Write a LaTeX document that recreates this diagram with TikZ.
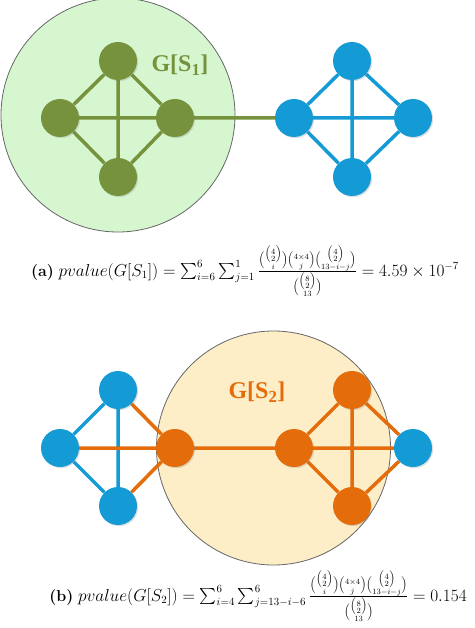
\documentclass[tikz,border=0pt]{standalone}
\usepackage{amsmath,amssymb}
\usepackage{fontspec}
\usepackage{xcolor}
\usepackage{tikz}
\usetikzlibrary{shadows}
\newfontfamily\labelfont{Liberation Serif}
\definecolor{olivegreen}{RGB}{118,146,60}
\definecolor{lightgreen}{RGB}{214,246,208}
\definecolor{skyblue}{RGB}{20,155,213}
\definecolor{darkorange}{RGB}{228,108,10}
\definecolor{lightcream}{RGB}{253,238,200}
\pgfdeclarelayer{regions}
\pgfdeclarelayer{edges}
\pgfsetlayers{regions,edges,main}

\begin{document}
\begin{tikzpicture}[
  x=1pt, y=-1pt,
  vertex/.style={circle, minimum size=38pt, inner sep=0pt, drop shadow={opacity=0.25, shadow xshift=1.2pt, shadow yshift=-1.2pt}},
  gvertex/.style={vertex, fill=olivegreen},
  bvertex/.style={vertex, fill=skyblue},
  overtex/.style={vertex, fill=darkorange},
  region/.style={circle, draw=gray!80!black, line width=0.8pt, minimum size=234pt, inner sep=0pt},
  gedge/.style={draw=olivegreen, line width=3.5pt},
  bedge/.style={draw=skyblue, line width=3.5pt},
  oedge/.style={draw=darkorange, line width=3.5pt},
  setlabel/.style={font=\labelfont\fontsize{24}{28}\selectfont\bfseries},
  formula/.style={font=\fontsize{16}{19}\selectfont, anchor=base}
]
\useasboundingbox (0,0) rectangle (474,628);

% (a) the induced subgraph G[S_1]
\begin{pgfonlayer}{regions}
\node (regA) [region, fill=lightgreen] at (118,115) {};
\end{pgfonlayer}
\node (g1) [gvertex] at (118,61) {};
\node (g2) [gvertex] at (60,118) {};
\node (g3) [gvertex] at (175,118) {};
\node (g4) [gvertex] at (118,177) {};
\node (b1) [bvertex] at (352,61) {};
\node (b2) [bvertex] at (294,118) {};
\node (b3) [bvertex] at (413,118) {};
\node (b4) [bvertex] at (352,177) {};
\node (labA) [setlabel, text=olivegreen] at (180,65) {G[S\textsubscript{1}]};

% (b) the induced subgraph G[S_2]
\begin{pgfonlayer}{regions}
\node (regB) [region, fill=lightcream] at (273.5,448) {};
\end{pgfonlayer}
\node (c1) [bvertex] at (118,390) {};
\node (c2) [bvertex] at (60,448) {};
\node (c3) [overtex] at (175,448) {};
\node (c4) [bvertex] at (118,506) {};
\node (d1) [overtex] at (352,390) {};
\node (d2) [overtex] at (294,448) {};
\node (d3) [bvertex] at (413,448) {};
\node (d4) [overtex] at (352,506) {};
\node (labB) [setlabel, text=darkorange] at (257,392) {G[S\textsubscript{2}]};

\node (fA) [formula] at (245,276) {\textbf{(a)} $pvalue(G[S_1])=\sum_{i=6}^{6}\sum_{j=1}^{1}\frac{\binom{\binom{4}{2}}{i}\binom{4\times 4}{j}\binom{\binom{4}{2}}{13-i-j}}{\binom{\binom{8}{2}}{13}}=4.59\times10^{-7}$};
\node (fB) [formula] at (258,601) {\textbf{(b)} $pvalue(G[S_2])=\sum_{i=4}^{6}\sum_{j=13-i-6}^{6}\frac{\binom{\binom{4}{2}}{i}\binom{4\times 4}{j}\binom{\binom{4}{2}}{13-i-j}}{\binom{\binom{8}{2}}{13}}=0.154$};

% edges sit between the regions and the vertices
\begin{pgfonlayer}{edges}
\path[gedge] (g1) -- (g2) (g1) -- (g3) (g1) -- (g4) (g2) -- (g3) (g2) -- (g4) (g3) -- (g4) (g3) -- (b2);
\path[bedge] (b1) -- (b2) (b1) -- (b3) (b1) -- (b4) (b2) -- (b3) (b2) -- (b4) (b3) -- (b4);
\path[bedge] (c1) -- (c2) (c1) -- (c4) (c2) -- (c4);
\path[oedge] (c2) -- (c3) (c1) -- (c3) (c4) -- (c3) (c3) -- (d2);
\path[oedge] (d2) -- (d1) (d2) -- (d4) (d2) -- (d3) (d1) -- (d4) (d1) -- (d3) (d4) -- (d3);
\end{pgfonlayer}
\end{tikzpicture}
\end{document}
